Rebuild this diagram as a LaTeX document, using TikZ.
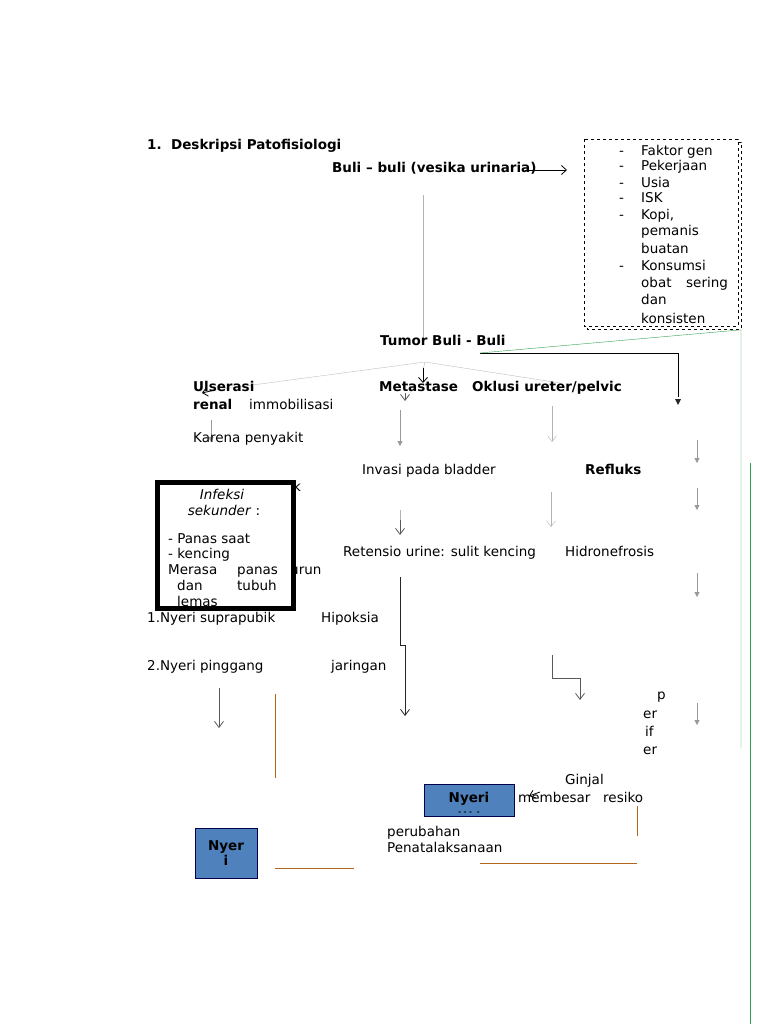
\documentclass[tikz,border=0pt]{standalone}
\usepackage{fontspec}
\setmainfont{DejaVu Sans}
\usetikzlibrary{arrows.meta}
\definecolor{boxblue}{HTML}{4F81BD}
\definecolor{brn}{HTML}{B5651D}
\definecolor{grn}{HTML}{2EA44F}
\begin{document}
\begin{tikzpicture}[x=1pt,y=-1pt,
  t/.style={anchor=base west,inner sep=0pt,font=\fontsize{13.5}{16}\selectfont},
  b/.style={t,font=\fontsize{13.5}{16}\selectfont\bfseries},
  ga/.style={draw=gray!80,-{Triangle[length=5pt,width=5pt]},fill=gray!80},
  va/.style={draw=gray!70!black,thick,-{Straight Barb[length=6pt,width=9pt]}},
  bl/.style={draw=brn,thick},
  gl/.style={draw=grn},
  bluebox/.style={draw=blue!30!black,thick,fill=boxblue}]
\useasboundingbox (0,0) rectangle (768,1024);
\fill[white] (0,0) rectangle (768,1024);

\node[b] (title) at (147,150) {1.\ \ Deskripsi Patofisiologi};
\node[b] (buli) at (332,173) {Buli – buli (vesika urinaria)};
\coordinate (ba) at (567,170);
\draw[thick,-{Straight Barb[length=5pt,width=9pt]}] (525,170) -- (ba);

% factor box
\draw[dashed,thick] (587,142) rectangle (741,329);
\draw[dashed,thick,fill=white] (584,139) rectangle (738,326);
\begin{scope}[every node/.style={t}]
\foreach \y/\s in {156/Faktor gen,171/Pekerjaan,188/Usia,203/ISK,219/{Kopi,},270/Konsumsi}{\node at (619,\y) {-}; \node at (641,\y) {\s};}
\node at (641,236) {pemanis};
\node at (641,253) {buatan};
\node at (641,287) {obat};
\node at (686,287) {sering};
\node at (641,304) {dan};
\end{scope}
\begin{scope}
\clip (584,139) rectangle (738,326);
\node[t] at (641,323) {konsisten};
\end{scope}

\draw[gray!60] (423,195) -- (423,345);
\node[b] (tumor) at (380,345) {Tumor Buli - Buli};

% branches
\coordinate (hub) at (425,362);
\draw[gray!50] (hub) -- (200,392);
\draw[gray!50] (hub) -- (560,383);
\draw[gray!50] (hub) -- (423,370);
\draw[thick,-{Straight Barb[length=5pt,width=9pt]}] (423,368) -- (423,383);
\draw[thick,-{Straight Barb[length=5pt,width=9pt]}] (215,390) -- (202,393);
\draw (480,353) -- (678,353) -- (678,397);
\fill[gray!30!black] (675,399) -- (681,399) -- (678,405) -- cycle;
\draw[gl] (480,353) -- (739,330) -- (741,330) -- (741,748);
\draw[gl] (750,463) -- (750,1024);

\node[b] at (193,391) {Ulserasi};
\node[b] at (193,409) {renal};
\node[t] at (249,409) {immobilisasi};
\node[b] at (379,391) {Metastase};
\node[b] at (472,391) {Oklusi ureter/pelvic};
\draw[va] (405,393) -- (405,401);
\draw[ga] (211,420) -- (211,442);
\node[t] at (193,442) {Karena penyakit};

\draw[ga] (400,410) -- (400,446);
\draw[gray!60,-{Straight Barb[length=6pt,width=9pt]}] (552,406) -- (552,442);
\draw[ga] (697,440) -- (697,463);
\draw[ga] (697,488) -- (697,510);
\draw[ga] (697,573) -- (697,597);
\draw[ga] (697,703) -- (697,725);

\node[t] at (362,474) {Invasi pada bladder};
\node[b] at (585,474) {Refluks};
\node[t] at (293,491) {k};
\node[t] at (290,574) {urun};

\draw[gray!60] (400,510) -- (400,530);
\draw[va] (400,520) -- (400,535);
\draw[gray!60,-{Straight Barb[length=6pt,width=9pt]}] (551,492) -- (551,527);
\node[t] at (343,556) {Retensio urine: sulit kencing};
\node[t] at (565,556) {Hidronefrosis};

% infeksi box
\node[draw,line width=5pt,fill=white,minimum width=136pt,minimum height=126pt,inner sep=0pt] (inf) at (225,545) {};
\begin{scope}
\clip (159,484) rectangle (291,606);
\node[t,anchor=base] at (222,499) {\textit{Infeksi}};
\node[t,anchor=base] at (224,515) {\textit{sekunder} :};
\node[t] at (168,543) {- Panas saat};
\node[t] at (168,558) {- kencing};
\node[t] at (168,574) {Merasa};
\node[t] at (237,574) {panas};
\node[t] at (177,590) {dan};
\node[t] at (237,590) {tubuh};
\node[t] at (177,606) {lemas};
\end{scope}

\node[t] at (147,622) {1.Nyeri suprapubik};
\node[t] at (321,622) {Hipoksia};
\node[t] at (147,670) {2.Nyeri pinggang};
\node[t] at (331,670) {jaringan};

\draw[va,draw=gray!30!black] (400,577) -- (400,645) -- (405,645) -- (405,716);
\draw[va] (552,655) -- (552,678) -- (580,678) -- (580,700);
\draw[va] (219,688) -- (219,728);
\draw[bl] (275,694) -- (275,778);

\node[t] at (657,699) {p};
\node[t] at (643,718) {er};
\node[t] at (645,736) {if};
\node[t] at (643,754) {er};

\node[t] at (565,784) {Ginjal};
\node[t] at (518,802) {membesar};
\node[t] at (603,802) {resiko};
\draw[thick,-{Straight Barb[length=5pt,width=8pt]}] (540,792) -- (529,796);

\node[bluebox,minimum width=90pt,minimum height=32pt] (ny1) at (469,800) {};
\node[b,anchor=base] at (469,802) {Nyeri};
\node[font=\fontsize{7}{8}\selectfont\bfseries] at (469,813) {- - -\ \ -};
\node[t] at (387,836) {perubahan};
\node[t] at (387,852) {Penatalaksanaan};

\draw[bl] (637,806) -- (637,836);
\draw[bl] (480,863) -- (637,863);
\draw[bl] (275,868) -- (354,868);

\node[bluebox,minimum width=62pt,minimum height=50pt,align=center,inner sep=0pt,font=\fontsize{13.5}{15}\selectfont\bfseries] (ny2) at (226,853) {Nyer\\i};
\end{tikzpicture}
\end{document}
